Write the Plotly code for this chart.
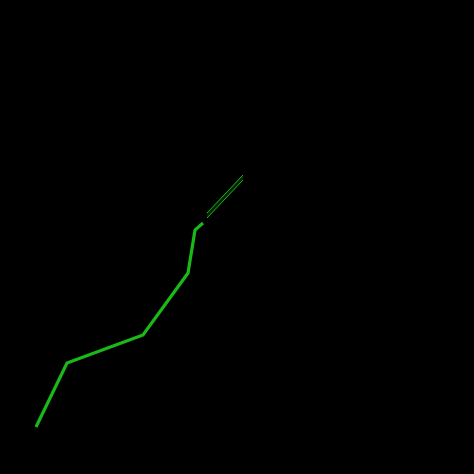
import plotly.graph_objects as go

# observed path (solid)
x_obs = [36, 67, 143, 188, 195, 203]
y_obs = [47, 111, 139, 201, 244, 251]

# projected band (thin outlined)
x_band = [207, 243]
y_band_hi = [261, 299]
y_band_lo = [256, 294]

green = "rgb(25,185,25)"

fig = go.Figure()
fig.add_trace(go.Scatter(x=x_obs, y=y_obs, mode="lines",
                         line=dict(color=green, width=3.2), hoverinfo="skip"))
fig.add_trace(go.Scatter(x=x_band, y=y_band_lo, mode="lines",
                         line=dict(color=green, width=1), hoverinfo="skip"))
fig.add_trace(go.Scatter(x=x_band, y=y_band_hi, mode="lines",
                         line=dict(color=green, width=1), fill="tonexty",
                         fillcolor="rgba(25,185,25,0.2)", hoverinfo="skip"))

fig.update_layout(
    width=474, height=474,
    margin=dict(l=0, r=0, t=0, b=0),
    paper_bgcolor="black", plot_bgcolor="black",
    showlegend=False,
    xaxis=dict(range=[0, 474], visible=False, fixedrange=True),
    yaxis=dict(range=[0, 474], visible=False, fixedrange=True),
)

# page has a default 8px body margin; drop it so the chart fills the window
fig.write_html("out.html", config={"displayModeBar": False},
               post_script="document.body.style.margin='0';document.body.style.background='black';")
